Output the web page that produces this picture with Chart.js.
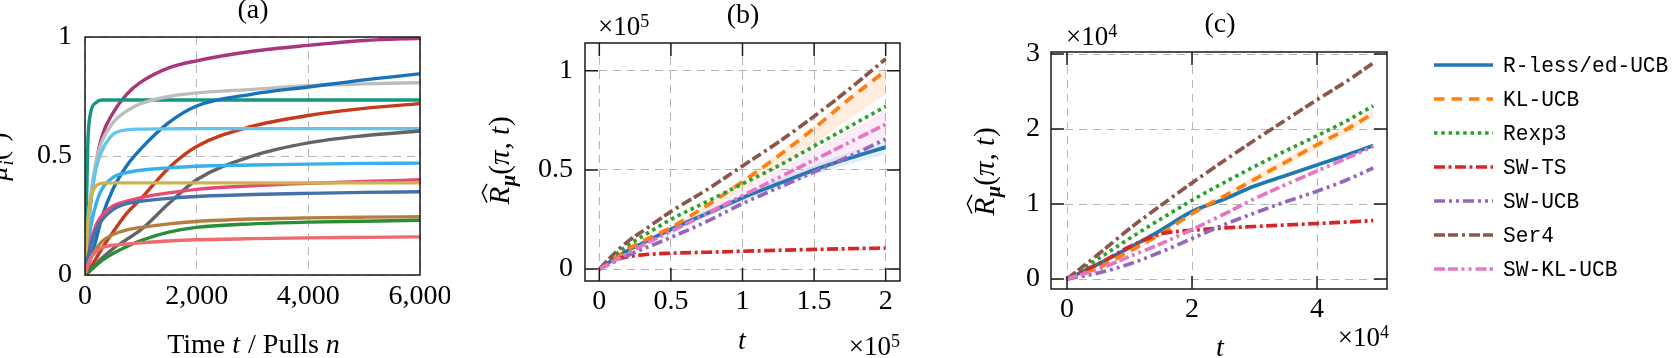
<!DOCTYPE html>
<html>
<head>
<meta charset="utf-8">
<script src="https://cdn.jsdelivr.net/npm/chart.js@4.4.0/dist/chart.umd.min.js"></script>
<style>
  body { margin: 0; background: #fff; width: 1672px; height: 358px; overflow: hidden; position: relative; }
  canvas { position: absolute; top: 0; }
</style>
</head>
<body>
<canvas id="chartA" width="450" height="358" style="left:0px"></canvas>
<canvas id="chartB" width="480" height="358" style="left:450px"></canvas>
<canvas id="chartC" width="742" height="358" style="left:930px"></canvas>
<script>
// ---------- (a) mean reward of each arm vs time ----------
var timeA = [0, 50, 100, 200, 300, 500, 750, 1000, 1500, 2000, 3000, 4000, 5000, 6000];
var armMagenta = [0, 0.18, 0.30, 0.47, 0.58, 0.68, 0.76, 0.81, 0.87, 0.90, 0.94, 0.965, 0.985, 0.995];
var armTeal    = [0, 0.55, 0.68, 0.725, 0.735, 0.735, 0.735, 0.735, 0.735, 0.735, 0.735, 0.735, 0.735, 0.735];
var armLight   = [0, 0.20, 0.33, 0.48, 0.56, 0.64, 0.69, 0.72, 0.75, 0.765, 0.78, 0.795, 0.803, 0.808];
var armBlue    = [0, 0.03, 0.07, 0.15, 0.24, 0.36, 0.46, 0.53, 0.64, 0.71, 0.76, 0.79, 0.82, 0.845];
var armRed     = [0, 0.01, 0.03, 0.07, 0.11, 0.18, 0.26, 0.32, 0.45, 0.54, 0.625, 0.67, 0.70, 0.72];
var armSky     = [0, 0.18, 0.30, 0.45, 0.52, 0.59, 0.61, 0.613, 0.614, 0.615, 0.615, 0.615, 0.615, 0.615];
var armDark    = [0, 0.01, 0.02, 0.045, 0.07, 0.11, 0.15, 0.19, 0.30, 0.40, 0.50, 0.555, 0.585, 0.605];
var armCyan    = [0, 0.12, 0.20, 0.30, 0.36, 0.41, 0.43, 0.44, 0.45, 0.457, 0.462, 0.466, 0.469, 0.47];
var armOlive   = [0, 0.22, 0.32, 0.375, 0.385, 0.387, 0.387, 0.387, 0.387, 0.387, 0.387, 0.387, 0.387, 0.387];
var armPink    = [0, 0.08, 0.14, 0.21, 0.25, 0.29, 0.31, 0.325, 0.345, 0.36, 0.375, 0.385, 0.393, 0.40];
var armSteel   = [0, 0.07, 0.12, 0.19, 0.23, 0.275, 0.30, 0.31, 0.322, 0.33, 0.338, 0.343, 0.347, 0.35];
var armBrown   = [0, 0.04, 0.07, 0.11, 0.14, 0.17, 0.19, 0.20, 0.215, 0.225, 0.235, 0.24, 0.243, 0.245];
var armGreen   = [0, 0.01, 0.02, 0.04, 0.06, 0.09, 0.12, 0.145, 0.18, 0.20, 0.215, 0.222, 0.226, 0.23];
var armSalmon  = [0, 0.04, 0.07, 0.10, 0.115, 0.125, 0.13, 0.135, 0.143, 0.148, 0.153, 0.156, 0.158, 0.16];
var arms = [armMagenta, armTeal, armLight, armBlue, armRed, armSky, armDark, armCyan, armPink, armOlive, armSteel, armBrown, armGreen, armSalmon];
var armColors = ['#a8367c', '#14977f', '#bdbdbd', '#1673bb', '#c63b1c', '#63c5ea', '#646464', '#38b1e8', '#e44b78', '#ccb34e', '#4671a8', '#b67e3e', '#288f38', '#ee6b6f'];
var xTicksA = [0, 2000, 4000, 6000];
var yTicksA = [0, 0.5, 1];

// ---------- algorithms (shared by b and c) ----------
var algoNames = ['R-less/ed-UCB', 'KL-UCB', 'Rexp3', 'SW-TS', 'SW-UCB', 'Ser4', 'SW-KL-UCB'];
var algoColors = ['#1f77b4', '#ff7f0e', '#2ca02c', '#d62728', '#9467bd', '#8c564b', '#e377c2'];
var algoDashes = [[], [10.5, 7], [3.5, 3.8], [11, 3.5, 3, 3.5], [11, 4, 3, 4, 3, 4], [11, 3, 10, 4, 3, 4], [11, 3, 10, 3.5, 3, 4, 3, 4]];

// ---------- (b) regret, horizon 2e5 ----------
var timeB = [0, 10000, 20000, 30000, 50000, 75000, 100000, 125000, 150000, 175000, 200000];
var regB_Rless = [0, 5000, 9500, 13000, 20000, 28000, 36000, 43000, 50000, 56000, 61500];
var regB_KL    = [0, 5000, 10000, 14000, 21000, 32000, 44000, 57000, 71000, 86000, 100000];
var regB_Rexp3 = [0, 6500, 12000, 16500, 25000, 34000, 43000, 52000, 62000, 72000, 82000];
var regB_SWTS  = [0, 4500, 6200, 7200, 8000, 8500, 9000, 9500, 9900, 10300, 10600];
var regB_SWUCB = [0, 3500, 7000, 10000, 16000, 24000, 33000, 41000, 49000, 57000, 65500];
var regB_Ser4  = [0, 7500, 14000, 19000, 29000, 40000, 52000, 64000, 77000, 91000, 106000];
var regB_SWKL  = [0, 4000, 8000, 12000, 19000, 28000, 37000, 46000, 55000, 64000, 73000];
var bandB_KL_hi    = [0, 5200, 10300, 14500, 21800, 33000, 45500, 58500, 72500, 87500, 102000];
var bandB_KL_lo    = [0, 4800, 9500, 13200, 19500, 29500, 40000, 51000, 63000, 76000, 88000];
var bandB_SWKL_hi  = [0, 4200, 8500, 12800, 20000, 30000, 40000, 50000, 60000, 70000, 80000];
var bandB_SWKL_lo  = [0, 3800, 7500, 11200, 17500, 26000, 34000, 42000, 50000, 58000, 66000];
var bandB_Rless_hi = [0, 5200, 10000, 13700, 21000, 29500, 37800, 45200, 52500, 59000, 65000];
var bandB_Rless_lo = [0, 4800, 9000, 12300, 19000, 26500, 34200, 40800, 47500, 53000, 57500];
var xTicksB = [0, 50000, 100000, 150000, 200000];
var yTicksB = [0, 50000, 100000];

// ---------- (c) regret, horizon 5e4 ----------
var timeC = [0, 5000, 10000, 15000, 20000, 25000, 30000, 35000, 40000, 45000, 49000];
var regC_Rless = [0, 2000, 4200, 6500, 9000, 10600, 12400, 13800, 15200, 16600, 17800];
var regC_KL    = [0, 1500, 3700, 6000, 8700, 11000, 13300, 15600, 17900, 20100, 22100];
var regC_Rexp3 = [0, 2700, 5400, 8000, 10500, 12800, 15000, 17100, 19100, 21200, 23100];
var regC_SWTS  = [0, 2000, 4300, 6000, 6500, 6800, 7000, 7200, 7400, 7600, 7800];
var regC_SWUCB = [0, 800, 2000, 3600, 5400, 7200, 8800, 10300, 11700, 13300, 14800];
var regC_Ser4  = [0, 3300, 6700, 9800, 12800, 15700, 18500, 21200, 23900, 26500, 28800];
var regC_SWKL  = [0, 1300, 3000, 4700, 6600, 8600, 10700, 12600, 14400, 16200, 17700];
var bandC_KL_hi = [0, 1600, 3900, 6300, 9100, 11400, 13800, 16100, 18400, 20600, 22600];
var bandC_KL_lo = [0, 1400, 3500, 5700, 8300, 10500, 12800, 15000, 17300, 19500, 21500];
var xTicksC = [0, 20000, 40000];
var yTicksC = [0, 10000, 20000, 30000];

var serif = '"Liberation Serif", "Times New Roman", serif';
var mono = '"Liberation Mono", "DejaVu Sans Mono", monospace';
var fontPx = 28;

function pts(xs, ys) {
  return xs.map(function (x, i) { return { x: x, y: ys[i] }; });
}

// draws a small piece of math: parts = [[text, kind], ...]
function drawMath(ctx, parts, x, y, align, size, rotate) {
  var small = Math.round(size * 0.68);
  var specs = parts.map(function (p) {
    var k = p[1], font = size + 'px ' + serif, dy = 0;
    if (k === 'i' || k === 'hat') font = 'italic ' + size + 'px ' + serif;
    if (k === 'sb') { font = 'italic bold ' + small + 'px ' + serif; dy = size * 0.22; }
    if (k === 'si') { font = 'italic ' + small + 'px ' + serif; dy = size * 0.22; }
    if (k === 'sup') { font = small + 'px ' + serif; dy = -size * 0.3; }
    ctx.font = font;
    return { text: p[0], kind: k, font: font, dy: dy, w: ctx.measureText(p[0]).width };
  });
  var total = specs.reduce(function (s, p) { return s + p.w; }, 0);
  ctx.save();
  ctx.translate(x, y);
  if (rotate) ctx.rotate(rotate);
  ctx.fillStyle = '#000';
  ctx.strokeStyle = '#000';
  ctx.textAlign = 'left';
  ctx.textBaseline = 'alphabetic';
  var cx = align === 'center' ? -total / 2 : (align === 'right' ? -total : 0);
  specs.forEach(function (p) {
    ctx.font = p.font;
    ctx.fillText(p.text, cx, p.dy);
    if (p.kind === 'hat') {
      ctx.lineWidth = 1.4;
      ctx.beginPath();
      ctx.moveTo(cx + 2, -size * 0.76);
      ctx.lineTo(cx + p.w * 0.55 + 2, -size * 0.92);
      ctx.lineTo(cx + p.w + 3, -size * 0.76);
      ctx.stroke();
    }
    cx += p.w + (p.kind === 'i' || p.kind === 'hat' ? 1 : 0);
  });
  ctx.restore();
}

function axis(min, max, tickVals, fmt, pad, size, horizontal) {
  return {
    type: 'linear',
    min: min,
    max: max,
    afterBuildTicks: function (s) { s.ticks = tickVals.map(function (v) { return { value: v }; }); },
    afterFit: function (s) {
      if (horizontal) { s.height = size; } else { s.width = size; }
      s.paddingLeft = 0; s.paddingRight = 0; s.paddingTop = 0; s.paddingBottom = 0;
    },
    ticks: { callback: fmt, padding: pad, autoSkip: false, maxRotation: 0, minRotation: 0, color: '#000',
      font: { family: serif, size: fontPx, lineHeight: 1 } },
    grid: { color: '#b5b5b5', lineWidth: 1, drawTicks: false },
    border: { display: false, dash: [8, 6] }
  };
}

// box round the plot area, with optional inward tick marks on all four sides
function framePlugin(tickLen) {
  return {
    id: 'frame',
    afterDatasetsDraw: function (chart) {
      var ctx = chart.ctx, a = chart.chartArea, sx = chart.scales.x, sy = chart.scales.y;
      ctx.save();
      ctx.strokeStyle = '#1a1a1a';
      ctx.lineWidth = 1.5;
      ctx.setLineDash([]);
      ctx.beginPath();
      if (tickLen) {
        sx.ticks.forEach(function (t) {
          var px = sx.getPixelForValue(t.value);
          ctx.moveTo(px, a.bottom); ctx.lineTo(px, a.bottom - tickLen);
          ctx.moveTo(px, a.top); ctx.lineTo(px, a.top + tickLen);
        });
        sy.ticks.forEach(function (t) {
          var py = sy.getPixelForValue(t.value);
          ctx.moveTo(a.left, py); ctx.lineTo(a.left + tickLen, py);
          ctx.moveTo(a.right, py); ctx.lineTo(a.right - tickLen, py);
        });
      }
      ctx.rect(a.left, a.top, a.right - a.left, a.bottom - a.top);
      ctx.stroke();
      ctx.restore();
    }
  };
}

function textPlugin(fn) {
  return { id: 'texts', afterDraw: function (chart) { fn(chart.ctx); } };
}

function baseOptions(pad) {
  return {
    responsive: false,
    animation: false,
    layout: { padding: pad },
    elements: { point: { radius: 0 }, line: { borderCapStyle: 'butt', borderJoinStyle: 'round' } },
    plugins: { legend: { display: false }, title: { display: false }, tooltip: { enabled: false } }
  };
}

// ---------- chart (a) ----------
var dsA = arms.map(function (arr, i) {
  return { data: pts(timeA, arr), borderColor: armColors[i], borderWidth: 3.4, fill: false,
    cubicInterpolationMode: 'monotone', clip: 0, order: arms.length - i };
});
var optA = baseOptions({ top: 37, right: 30, left: 0, bottom: 0 });
optA.scales = {
  x: axis(0, 6000, xTicksA, function (v) { return v.toLocaleString('en-US'); }, 8, 83, true),
  y: axis(0, 1, yTicksA, function (v) { return String(v); }, 13, 85, false)
};
new Chart(document.getElementById('chartA'), {
  type: 'line',
  data: { datasets: dsA },
  options: optA,
  plugins: [framePlugin(0), textPlugin(function (ctx) {
    drawMath(ctx, [['(a)', 'r']], 253, 18, 'center', fontPx);
    drawMath(ctx, [['Time ', 'r'], ['t', 'i'], [' / Pulls ', 'r'], ['n', 'i']], 253, 353, 'center', fontPx);
    drawMath(ctx, [['μ', 'i'], ['i', 'si'], ['(·)', 'r']], 7, 157, 'center', fontPx, -Math.PI / 2);
  })]
});

// ---------- regret charts (b) and (c) ----------
function regretSets(times, series, bands) {
  var sets = series.map(function (arr, i) {
    return { data: pts(times, arr), borderColor: algoColors[i], borderWidth: 3.7, borderDash: algoDashes[i],
      fill: false, cubicInterpolationMode: 'monotone', clip: 0, order: series.length - i };
  });
  bands.forEach(function (b) {
    sets.push({ data: pts(times, b[1]), borderWidth: 0, borderColor: 'rgba(0,0,0,0)', fill: false, clip: 0, order: 50,
      cubicInterpolationMode: 'monotone' });
    sets.push({ data: pts(times, b[2]), borderWidth: 0, borderColor: 'rgba(0,0,0,0)', fill: '-1', clip: 0, order: 50,
      backgroundColor: b[0], cubicInterpolationMode: 'monotone' });
  });
  return sets;
}

var dsB = regretSets(timeB, [regB_Rless, regB_KL, regB_Rexp3, regB_SWTS, regB_SWUCB, regB_Ser4, regB_SWKL], [
  ['rgba(255,127,14,0.13)', bandB_KL_lo, bandB_KL_hi],
  ['rgba(227,119,194,0.13)', bandB_SWKL_lo, bandB_SWKL_hi],
  ['rgba(31,119,180,0.12)', bandB_Rless_lo, bandB_Rless_hi]
]);
var optB = baseOptions({ top: 43, right: 30, left: 0, bottom: 0 });
optB.scales = {
  x: axis(-10000, 210000, xTicksB, function (v) { return String(v / 100000); }, 6.5, 77, true),
  y: axis(-6000, 114000, yTicksB, function (v) { return String(v / 100000); }, 12, 135, false)
};
new Chart(document.getElementById('chartB'), {
  type: 'line',
  data: { datasets: dsB },
  options: optB,
  plugins: [framePlugin(13), textPlugin(function (ctx) {
    drawMath(ctx, [['(b)', 'r']], 293, 22.5, 'center', fontPx);
    drawMath(ctx, [['×10', 'r'], ['5', 'sup']], 148, 35, 'left', 27);
    drawMath(ctx, [['t', 'i']], 292, 349, 'center', fontPx);
    drawMath(ctx, [['×10', 'r'], ['5', 'sup']], 450, 355, 'right', 27);
    drawMath(ctx, [['R', 'hat'], ['μ', 'sb'], ['(', 'r'], ['π', 'i'], [', ', 'r'], ['t', 'i'], [')', 'r']], 59, 162, 'center', 29, -Math.PI / 2);
  })]
});

var dsC = regretSets(timeC, [regC_Rless, regC_KL, regC_Rexp3, regC_SWTS, regC_SWUCB, regC_Ser4, regC_SWKL], [
  ['rgba(255,127,14,0.13)', bandC_KL_lo, bandC_KL_hi]
]);
var optC = baseOptions({ top: 52, right: 285, left: 0, bottom: 0 });
optC.scales = {
  x: axis(-2560, 51200, xTicksC, function (v) { return String(v / 10000); }, 7, 69, true),
  y: axis(-1330, 30270, yTicksC, function (v) { return String(v / 10000); }, 11, 121, false)
};
new Chart(document.getElementById('chartC'), {
  type: 'line',
  data: { datasets: dsC },
  options: optC,
  plugins: [framePlugin(13), textPlugin(function (ctx) {
    drawMath(ctx, [['(c)', 'r']], 290, 32, 'center', fontPx);
    drawMath(ctx, [['×10', 'r'], ['4', 'sup']], 136, 45, 'left', 27);
    drawMath(ctx, [['t', 'i']], 290, 356, 'center', fontPx);
    drawMath(ctx, [['×10', 'r'], ['4', 'sup']], 459, 346, 'right', 27);
    drawMath(ctx, [['R', 'hat'], ['μ', 'sb'], ['(', 'r'], ['π', 'i'], [', ', 'r'], ['t', 'i'], [')', 'r']], 64, 173, 'center', 29, -Math.PI / 2);
    // legend: the longest label spans about 165px in the reference
    ctx.save();
    ctx.font = '21px ' + mono;
    var legendSize = 21 * 165 / ctx.measureText(algoNames[0]).width;
    ctx.restore();
    algoNames.forEach(function (name, i) {
      var y = 65 + i * 34;
      ctx.save();
      ctx.strokeStyle = algoColors[i];
      ctx.lineWidth = 3.7;
      ctx.lineCap = 'butt';
      ctx.setLineDash(algoDashes[i]);
      ctx.beginPath();
      ctx.moveTo(504, y);
      ctx.lineTo(563, y);
      ctx.stroke();
      ctx.fillStyle = '#000';
      ctx.font = legendSize.toFixed(1) + 'px ' + mono;
      ctx.textAlign = 'left';
      ctx.textBaseline = 'alphabetic';
      ctx.fillText(name, 573, y + 7);
      ctx.restore();
    });
  })]
});
</script>
</body>
</html>
